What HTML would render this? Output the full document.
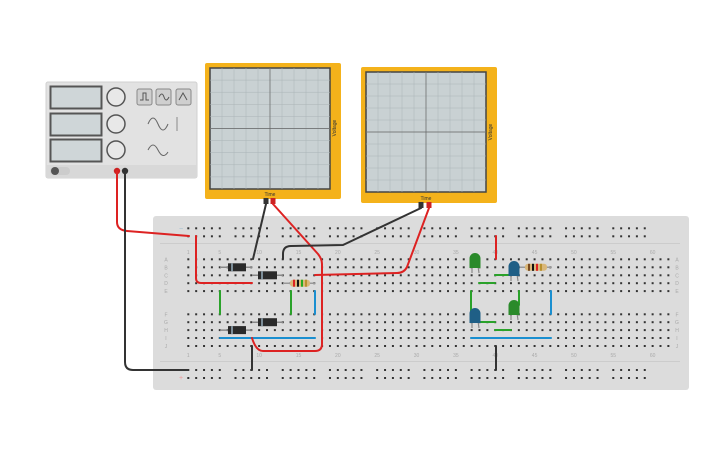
<!DOCTYPE html>
<html><head><meta charset="utf-8"><style>
html,body{margin:0;padding:0;background:#fff;width:725px;height:453px;overflow:hidden}
svg{display:block;font-family:"Liberation Sans",sans-serif}
</style></head><body>
<svg id="s" width="725" height="453" viewBox="0 0 725 453" xmlns="http://www.w3.org/2000/svg">
<rect x="46" y="82" width="151" height="96" rx="2" fill="#e2e2e2" stroke="#d0d0d0"/>
<rect x="46" y="165" width="151" height="13" fill="#d8d8d8"/>
<rect x="50.5" y="86.5" width="51" height="22" fill="#cfd6d8" stroke="#555" stroke-width="2"/>
<rect x="50.5" y="113.5" width="51" height="22" fill="#cfd6d8" stroke="#555" stroke-width="2"/>
<rect x="50.5" y="139.5" width="51" height="22" fill="#cfd6d8" stroke="#555" stroke-width="2"/>
<circle cx="116" cy="97" r="9" fill="#e8e8e8" stroke="#555" stroke-width="1.5"/>
<circle cx="116" cy="124" r="9" fill="#e8e8e8" stroke="#555" stroke-width="1.5"/>
<circle cx="116" cy="150" r="9" fill="#e8e8e8" stroke="#555" stroke-width="1.5"/>
<rect x="137" y="89" width="15" height="16" rx="2" fill="#cfcfcf" stroke="#888"/>
<rect x="156" y="89" width="15" height="16" rx="2" fill="#cfcfcf" stroke="#888"/>
<rect x="176" y="89" width="15" height="16" rx="2" fill="#cfcfcf" stroke="#888"/>
<path d="M140 100h3v-7h3v7h3" fill="none" stroke="#555"/>
<path d="M159 97q3-6 5 0t5 0" fill="none" stroke="#555"/>
<path d="M179 100l4-7 4 7" fill="none" stroke="#555"/>
<path d="M148 124q5-12 10 0t10 0" fill="none" stroke="#666"/>
<path d="M148 150q5-10 10 0t10 2" fill="none" stroke="#666"/>
<line x1="177" y1="117" x2="177" y2="131" stroke="#666" stroke-width="0.7"/>
<rect x="50" y="167" width="20" height="8" rx="4" fill="#ccc"/>
<circle cx="55" cy="171" r="4" fill="#555"/>
<circle cx="117" cy="171" r="3.2" fill="#c22"/>
<circle cx="125" cy="171" r="3.2" fill="#333"/>
<rect x="205" y="63" width="136" height="136" rx="2" fill="#f4b21b"/>
<rect x="210" y="68" width="120" height="121" fill="#c9d1d3" stroke="#444" stroke-width="1.5"/>
<g id="g1" stroke="#aab4b7" stroke-width="0.5"></g>
<line x1="270" y1="68" x2="270" y2="189" stroke="#666" stroke-width="0.7"/>
<line x1="210" y1="128.5" x2="330" y2="128.5" stroke="#666" stroke-width="0.7"/>
<text x="270" y="196" font-size="5" text-anchor="middle" fill="#333">Time</text>
<text x="336" y="128" font-size="5" text-anchor="middle" fill="#333" transform="rotate(-90 336 128)">Voltage</text>
<rect x="263.5" y="198" width="5" height="6" fill="#333"/><rect x="270.5" y="198" width="5" height="6" fill="#c22"/>
<rect x="361" y="67" width="136" height="136" rx="2" fill="#f4b21b"/>
<rect x="366" y="72" width="120" height="120" fill="#c9d1d3" stroke="#444" stroke-width="1.5"/>
<g id="g2" stroke="#aab4b7" stroke-width="0.5"></g>
<line x1="426" y1="72" x2="426" y2="192" stroke="#666" stroke-width="0.7"/>
<line x1="366" y1="132" x2="486" y2="132" stroke="#666" stroke-width="0.7"/>
<text x="426" y="200" font-size="5" text-anchor="middle" fill="#333">Time</text>
<text x="492" y="132" font-size="5" text-anchor="middle" fill="#333" transform="rotate(-90 492 132)">Voltage</text>
<rect x="418.5" y="202" width="5" height="6" fill="#333"/><rect x="426.5" y="202" width="5" height="6" fill="#c22"/>
<rect x="153" y="216" width="536" height="174" rx="3" fill="#dcdcdc"/>
<line x1="160" y1="243.5" x2="680" y2="243.5" stroke="#ccc"/>
<line x1="160" y1="361.5" x2="680" y2="361.5" stroke="#ccc"/>
<g id="dots" fill="#333"></g>
<g id="lbl" font-size="5" fill="#aaa" text-anchor="middle"></g>
<text x="181" y="231" font-size="7" fill="#9bc" text-anchor="middle">−</text>
<text x="181" y="380" font-size="7" fill="#e99" text-anchor="middle">+</text>
<g fill="none" stroke-width="2" stroke-linecap="round">
<path d="M220 291V314M291 291V314M471 291V314M519 291V305" stroke="#2aa22a"/>
<path d="M495 275h16M479 283h16M479 322h16M495 330h16" stroke="#2aa22a"/>
<path d="M315 291V314M551 291V314M220 338H315M471 338H551" stroke="#1a8fd0"/>
<path d="M496 236V259" stroke="#d22"/>
<path d="M252 346V370M496 346V370" stroke="#333"/>
</g>
<g id="comp"></g>
<g fill="none" stroke-width="2" stroke-linejoin="round" stroke-linecap="round">
<path d="M117 171V222Q117 230 127 231L189 236" stroke="#d22"/>
<path d="M196 236V278Q196 283 201 283H252" stroke="#d22"/>
<path d="M125 171V362Q125 370 133 370H188" stroke="#333"/>
<path d="M266 204L253 259" stroke="#333"/>
<path d="M273 204L318 254Q322 259 322 264V344Q322 351 315 351H263Q256 351 252 338" stroke="#d22"/>
<path d="M421 208L343 245L291 246Q283 246 283 254V259" stroke="#333"/>
<path d="M429 208L407 267Q404 273 397 273L315 275" stroke="#d22"/>
</g>
</svg>
<script>
const NS="http://www.w3.org/2000/svg";
function el(p,t,a){const e=document.createElementNS(NS,t);for(const k in a)e.setAttribute(k,a[k]);p.appendChild(e);return e;}
const g1=document.getElementById('g1'),g2=document.getElementById('g2');
for(let i=1;i<10;i++){el(g1,'line',{x1:210+i*12,y1:68,x2:210+i*12,y2:189});el(g1,'line',{x1:210,y1:68+i*12.1,x2:330,y2:68+i*12.1});
el(g2,'line',{x1:366+i*12,y1:72,x2:366+i*12,y2:192});el(g2,'line',{x1:366,y1:72+i*12,x2:486,y2:72+i*12});}
const D=document.getElementById('dots'),L=document.getElementById('lbl');
const cx=c=>188.3+(c-1)*7.87;
const rows=[259.3,267.3,275.3,283.2,291.1,314.3,322.2,330.1,338,346];
for(let c=1;c<=62;c++)for(const y of rows)el(D,'rect',{x:cx(c)-1,y:y-1,width:2,height:2});
for(const y of [228.3,236.3,370,378])for(let g=0;g<10;g++)for(let k=0;k<5;k++)el(D,'rect',{x:cx(1+g*6+k)-1,y:y-1,width:2,height:2});
for(const n of [1,5,10,15,20,25,30,35,40,45,50,55,60]){let t=el(L,'text',{x:cx(n),y:254});t.textContent=n;t=el(L,'text',{x:cx(n),y:357});t.textContent=n;}
"ABCDEFGHIJ".split('').forEach((ch,i)=>{let t=el(L,'text',{x:166,y:rows[i]+2});t.textContent=ch;t=el(L,'text',{x:677,y:rows[i]+2});t.textContent=ch;});
const C=document.getElementById('comp');
function diode(x1,x2,b1,b2,y){el(C,'line',{x1:x1,y1:y,x2:x2,y2:y,stroke:'#888','stroke-width':1.5});el(C,'rect',{x:b1,y:y-4,width:b2-b1,height:8,fill:'#2a2a2a'});el(C,'rect',{x:b1+3,y:y-4,width:2,height:8,fill:'#7d8e99'});}
diode(220,252,228,246,267.3);diode(252,283,258,277,275.3);diode(252,283,258,277,322.2);diode(220,252,228,246,330.1);
function res(x1,x2,b1,b2,y,bands){el(C,'line',{x1:x1,y1:y,x2:x2,y2:y,stroke:'#999','stroke-width':1.5});el(C,'rect',{x:b1,y:y-3.5,width:b2-b1,height:7,rx:3,fill:'#d9b779'});bands.forEach((b,i)=>el(C,'rect',{x:b1+3+i*4,y:y-3.5,width:2,height:7,fill:b}));}
res(283,315,290,310,283.2,['#d22','#111','#2a2','#b8912e']);
res(520,551,525,547,267.3,['#7a4a1e','#111','#d22','#b8912e']);
function led(x,top,col){el(C,'line',{x1:x-3,y1:top+13,x2:x-3,y2:top+20,stroke:'#888','stroke-width':1.2});el(C,'line',{x1:x+3,y1:top+13,x2:x+4,y2:top+20,stroke:'#888','stroke-width':1.2});
el(C,'path',{d:`M${x-5.5} ${top+15}V${top+5.5}a5.5 5.5 0 0 1 11 0V${top+15}Z`,fill:col});}
led(475,253,'#2a8a2a');led(514,261,'#1f5f86');led(475,308,'#1f5f86');led(514,300,'#2a8a2a');
</script>
</body></html>
